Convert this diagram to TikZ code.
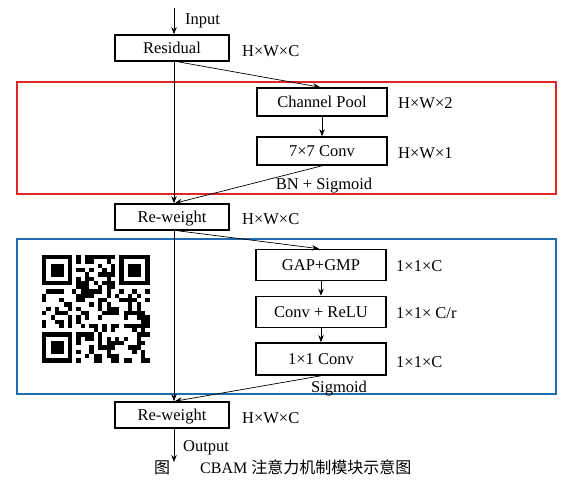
\documentclass[tikz,border=0pt]{standalone}
\usepackage{fontspec}
\setmainfont{Liberation Serif}
\newfontfamily\cjk{Noto Sans CJK SC}
\usetikzlibrary{arrows.meta}
\definecolor{redbox}{RGB}{220,40,40}
\definecolor{bluebox}{RGB}{30,110,175}
\begin{document}
\begin{tikzpicture}[x=1pt,y=-1pt,
  every node/.style={font=\fontsize{16.5}{19}\selectfont, inner sep=0pt, text height=11pt, text depth=0pt},
  mainbox/.style={draw, line width=1.6pt, minimum width=114pt, minimum height=26pt},
  sidebox/.style={draw, line width=1.6pt, minimum width=130pt, minimum height=28pt},
  dimlbl/.style={anchor=west},
  conn/.style={line width=0.7pt, -{Stealth[length=7pt,width=5.5pt]}},
  qrdot/.style={fill=black}]
\useasboundingbox (0,0) rectangle (570,487);
% frames
\draw[redbox, line width=1.3pt] (17,82) rectangle (556,194);
\draw[bluebox, line width=1.6pt] (17,239) rectangle (556,394);
% main column
\coordinate (in) at (174,8);
\node[mainbox] (res) at (172,48) {Residual};
\node[mainbox] (rw1) at (172,217) {Re-weight};
\node[mainbox] (rw2) at (172,415) {Re-weight};
\coordinate (out) at (174,462);
% spatial branch
\node[sidebox] (cp) at (322,102) {Channel Pool};
\node[sidebox] (c7) at (322,151) {7×7 Conv};
% channel branch
\node[sidebox, minimum height=31pt] (gap) at (321,265) {GAP+GMP};
\node[sidebox, minimum height=31pt] (cr) at (321,312) {Conv + ReLU};
\node[sidebox, minimum height=32pt] (c1) at (321,359) {1×1 Conv};
% labels
\node[anchor=west] (lin) at (185,19) {Input};
\node[anchor=west] (lout) at (183,446) {Output};
\node[dimlbl] (d1) at (242,51) {H×W×C};
\node[dimlbl] (d2) at (398,103) {H×W×2};
\node[dimlbl] (d3) at (398,153) {H×W×1};
\node[dimlbl] (d4) at (242,219) {H×W×C};
\node[dimlbl] (d5) at (396,266) {1×1×C};
\node[dimlbl] (d6) at (396,313) {1×1× C/r};
\node[dimlbl] (d7) at (396,362) {1×1×C};
\node[dimlbl] (d8) at (242,418) {H×W×C};
\node (bns) at (324,184) {BN + Sigmoid};
\node (sig) at (339,387) {Sigmoid};
% connectors
\draw[conn] (in) -- (in|-res.north);
\draw[conn] (res.south-|in) -- (in|-rw1.north);
\draw[conn] (rw1.south-|in) -- (in|-rw2.north);
\draw[conn] (rw2.south-|in) -- (out);
\draw[conn] ([xshift=6pt]res.south) -- ([xshift=-2pt]cp.north);
\draw[conn] (cp.south) -- (c7.north);
\draw[conn] (c7.south) -- ([xshift=3pt]rw1.north);
\draw[conn] ([xshift=6pt]rw1.south) -- ([xshift=-2pt]gap.north);
\draw[conn] (gap.south) -- (cr.north);
\draw[conn] (cr.south) -- (c1.north);
\draw[conn] (c1.south) -- ([xshift=3pt]rw2.north);
% caption
\node[font=\cjk\fontsize{16}{19}\selectfont] (capfig) at (162,468) {图};
\node[anchor=west, font=\fontsize{16}{19}\selectfont] (cap) at (200,468) {CBAM {\cjk 注意力机制模块示意图}};
% QR code
\begin{scope}[shift={(42,255)}]
\def\m{4.3}
\pgfmathsetseed{11}
\foreach \i in {0,...,24}{
  \foreach \j in {0,...,24}{
    \pgfmathtruncatemacro{\qrb}{(rnd>0.52)&&!((\i<8&&\j<8)||(\i<8&&\j>16)||(\i>16&&\j<8))}
    \ifnum\qrb=1 \fill[qrdot] (\i*\m,\j*\m) rectangle ++(\m,\m);\fi
  }}
\foreach \cx/\cy in {0/0,18/0,0/18}{
  \fill[black] (\cx*\m,\cy*\m) rectangle ++(7*\m,7*\m);
  \fill[white] (\cx*\m+\m,\cy*\m+\m) rectangle ++(5*\m,5*\m);
  \fill[black] (\cx*\m+2*\m,\cy*\m+2*\m) rectangle ++(3*\m,3*\m);
}
\end{scope}
\end{tikzpicture}
\end{document}
